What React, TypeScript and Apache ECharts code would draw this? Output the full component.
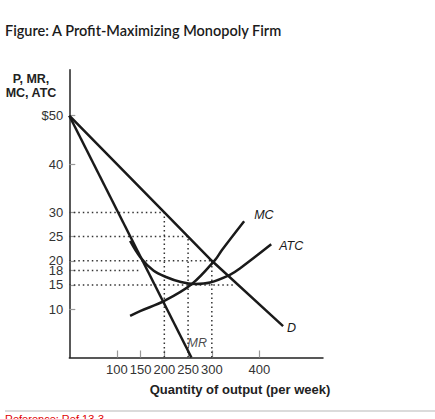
import React, { useEffect, useRef } from "react";
import * as echarts from "echarts";

// Curves: [quantity, price]
const demand: number[][] = [[0, 50], [200, 30], [300, 20], [450, 6.5]];
const marginalRevenue: number[][] = [[0, 50], [257, 0]];
const marginalCost: number[][] = [[128, 8.6], [149, 9.6], [200, 11.7], [258, 15.2], [307, 20.2], [321, 22.2], [368, 28.2]];
const averageTotalCost: number[][] = [[128, 24.1], [149, 20.8], [177, 18.0], [205, 16.6], [235, 15.6], [265, 15.2], [296, 15.5], [338, 17.1], [359, 18.4], [425, 23.4]];
const mrLabelPoint: number[] = [241.6, 3];

// Dotted guides
const priceGuides: number[][] = [[30, 200], [25, 250], [20, 300], [18, 150], [15, 348]]; // [price, quantity reached]
const quantityGuides: number[][] = [[200, 30], [250, 25], [300, 20]]; // [quantity, price reached]

const xTicks = [100, 150, 200, 250, 300, 400];
const yTicks = [10, 15, 18, 20, 25, 30, 40, 50];

const INK = "#1a1a1a";
const FONT = "'Liberation Sans', Arial, Helvetica, sans-serif";

export default function App() {
  const ref = useRef<HTMLDivElement>(null);
  useEffect(() => {
    if (!ref.current) return;
    const chart = echarts.init(ref.current, null, { renderer: "svg" });

    const curveLabel = {
      fontFamily: FONT,
      fontStyle: "italic",
      fontSize: 12.5,
      color: INK,
    };

    const curve = (name: string, data: number[][], labelOffset: number[] | null) => ({
      type: "line",
      name,
      data,
      symbol: "none",
      smooth: name === "MC" || name === "ATC" ? 0.35 : false,
      lineStyle: { color: INK, width: 2.5 },
      silent: true,
      endLabel: labelOffset
        ? { show: true, formatter: name, distance: 4, offset: labelOffset, ...curveLabel }
        : undefined,
    });

    const dotted = (data: number[][]) => ({
      type: "line",
      data,
      symbol: "none",
      silent: true,
      lineStyle: { color: "#333", width: 1.5, type: [1.5, 3] },
    });

    const series: any[] = [];
    priceGuides.forEach(([p, q]) => series.push(dotted([[0, p], [q, p]])));
    quantityGuides.forEach(([q, p]) => series.push(dotted([[q, 0], [q, p]])));
    series.push(curve("D", demand, [0, 2]));
    series.push(curve("MR", marginalRevenue, null));
    series.push(curve("MC", marginalCost, [6, -6]));
    series.push(curve("ATC", averageTotalCost, [4, 2]));
    series.push({
      type: "scatter",
      data: [mrLabelPoint],
      symbol: "circle",
      symbolSize: 1,
      itemStyle: { color: "rgba(0,0,0,0)" },
      silent: true,
      label: { show: true, position: "right", formatter: "MR", distance: 3, ...curveLabel },
    });

    chart.setOption({
      animation: false,
      backgroundColor: "#ffffff",
      grid: { left: 69.3, right: 112, top: 69.8, bottom: 61.5, containLabel: false },
      xAxis: {
        type: "value",
        min: 0,
        max: 534,
        axisLine: { show: true, lineStyle: { color: "#222", width: 1.5 } },
        axisTick: { show: true, inside: true, length: 7, customValues: xTicks, lineStyle: { color: "#999", width: 1.2 } },
        axisLabel: { customValues: xTicks, margin: 5, fontFamily: FONT, fontSize: 13, color: "#333" },
        splitLine: { show: false },
      },
      yAxis: {
        type: "value",
        min: 0,
        max: 59.5,
        axisLine: { show: true, lineStyle: { color: "#222", width: 1.5 } },
        axisTick: { show: true, inside: true, length: 6, customValues: yTicks, lineStyle: { color: "#999", width: 1.2 } },
        axisLabel: {
          customValues: yTicks,
          margin: 6,
          fontFamily: FONT,
          fontSize: 13,
          lineHeight: 10,
          color: "#333",
          formatter: (v: number) => (v === 50 ? "$50" : String(v)),
        },
        splitLine: { show: false },
      },
      graphic: [
        {
          type: "text",
          style: {
            text: "Figure: A Profit-Maximizing Monopoly Firm",
            x: 5,
            y: 30,
            verticalAlign: "middle",
            fontFamily: "Lato, 'Noto Sans', sans-serif",
            fontWeight: 600,
            fontSize: 14.5,
            fill: "#1b1b1b",
          },
        },
        {
          type: "text",
          style: {
            text: "P, MR,\nMC, ATC",
            x: 31,
            y: 86,
            align: "center",
            verticalAlign: "middle",
            lineHeight: 14,
            fontFamily: FONT,
            fontWeight: "bold",
            fontSize: 12.5,
            fill: "#222",
          },
        },
        {
          type: "text",
          style: {
            text: "Quantity of output (per week)",
            x: 240,
            y: 389,
            align: "center",
            verticalAlign: "middle",
            fontFamily: FONT,
            fontWeight: "bold",
            fontSize: 13,
            fill: "#222",
          },
        },
        {
          type: "line",
          shape: { x1: 5, y1: 411, x2: 435, y2: 411 },
          style: { stroke: "#cfcfcf", lineWidth: 1.5 },
        },
        {
          type: "text",
          style: {
            text: "Reference: Ref 13-3",
            x: 5,
            y: 413.5,
            verticalAlign: "top",
            fontFamily: FONT,
            fontSize: 11,
            fill: "#e00000",
          },
        },
      ],
      series,
    });
    return () => chart.dispose();
  }, []);

  return (
    <div
      ref={ref}
      style={{ position: "fixed", left: 0, top: 0, width: 435, height: 419, background: "#fff" }}
    />
  );
}
